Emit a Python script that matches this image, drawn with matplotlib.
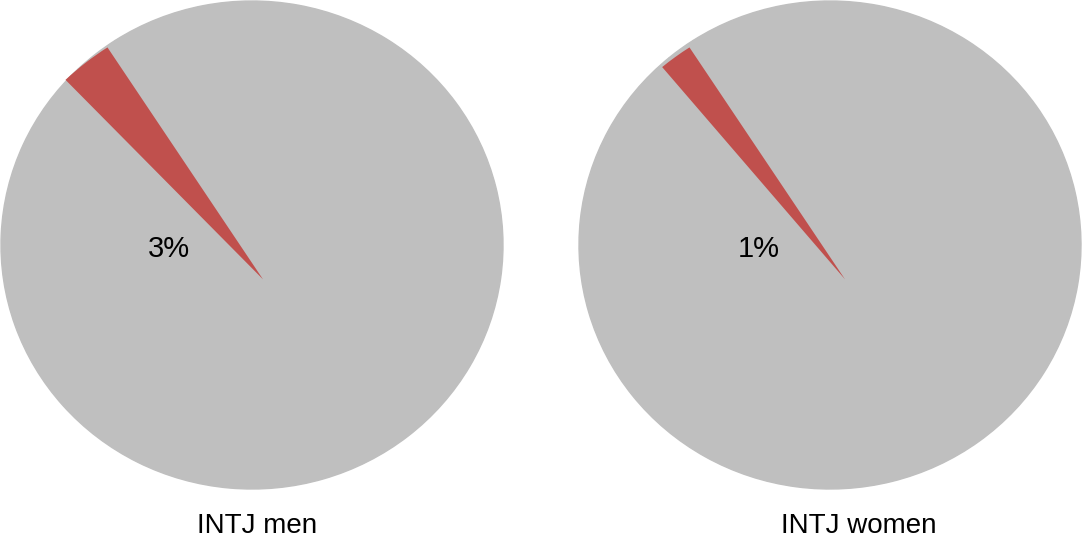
import matplotlib
matplotlib.use('Agg')
import matplotlib.pyplot as plt

plt.rcParams['font.family'] = ['Liberation Sans', 'DejaVu Sans']

# data
groups = ['INTJ men', 'INTJ women']
intj_share = [3.0, 1.9]          # wedge size in % (as drawn)
share_labels = ['3%', '1%']      # printed labels

grey = '#BFBFBF'
red = '#C0504D'

fig = plt.figure(figsize=(10.82, 5.40), dpi=100)

# axes boxes in figure fraction (left, bottom, width, height)
boxes = [(1 / 1082, 51 / 540, 502 / 1082, 488 / 540),
         (579 / 1082, 51 / 540, 502 / 1082, 488 / 540)]
red_centers = [(0.044, -0.141), (0.060, -0.141)]
title_x = [0.022, 0.116]
label_x = [-0.331, -0.283]

for i, name in enumerate(groups):
    ax = fig.add_axes(boxes[i])
    share = intj_share[i]
    rest = 100 - share

    # whole population disc
    ax.pie([share, rest], colors=[grey, grey], startangle=123,
           wedgeprops=dict(linewidth=1, edgecolor=grey))
    # INTJ slice, drawn on top
    ax.pie([share, rest], colors=[red, 'none'], startangle=123.1,
           radius=1.135, center=red_centers[i],
           wedgeprops=dict(linewidth=0))

    ax.set_aspect('auto')
    ax.set_xlim(-1, 1)
    ax.set_ylim(-1, 1)
    ax.axis('off')

    ax.text(label_x[i], -0.049, share_labels[i], ha='center', va='baseline',
            fontsize=21, color='black')
    ax.text(title_x[i], -1.203, name, ha='center', va='bottom',
            fontsize=20, color='black')

fig.savefig('out.png', dpi=100)
